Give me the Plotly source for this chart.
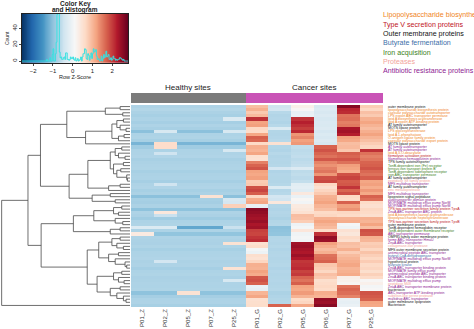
import numpy as np
import plotly.graph_objects as go

W, H = 474, 329

samples = ["P01_Z", "P02_Z", "P05_Z", "P07_Z", "P25_Z",
           "P01_G", "P02_G", "P05_G", "P06_G", "P07_G", "P25_G"]
groups = [0, 0, 0, 0, 0, 1, 1, 1, 1, 1, 1]
group_names = ["Healthy sites", "Cancer sites"]

# ---- row z-scores, one list per sample (65 genes, top to bottom) ----
P01_Z = [-0.74,-0.70,-0.76,-0.80,-0.75,-0.81,-0.74,-0.79,-1.02,-0.75,
         -0.73,-0.80,-1.15,-0.86,-0.75,-0.74,-0.72,-0.79,-0.76,-0.74,
         -0.73,-0.80,-0.76,-0.75,-0.81,-0.74,-0.72,-0.80,-0.76,-1.02,
         -0.80,-0.82,-0.76,-1.00,-0.74,-0.77,-0.86,-0.75,-0.73,-0.30,
         -0.75,0.35,-0.74,-0.76,-0.77,-0.73,-0.80,-0.75,-0.74,-0.72,
         -0.76,-0.74,-0.81,-0.75,-0.73,-0.77,-0.76,-0.74,-0.75,-0.73,
         -1.00,-0.82,-0.75,-0.74,-0.80]
P02_Z = [-0.74,-0.70,-0.76,-0.80,-0.75,-0.81,-0.74,-0.79,-0.35,-0.75,
         -0.73,-0.80,0.60,0.60,-0.75,-0.45,-0.72,-0.79,-0.76,-0.74,
         -0.73,-0.80,-0.76,-0.75,-0.81,-0.45,-0.72,-0.80,-0.76,-1.02,
         -0.80,-0.82,-0.76,-1.00,0.40,-0.50,-0.86,-0.75,-0.73,-0.30,
         -0.75,-0.98,-0.74,-0.76,-0.77,-0.73,-0.80,-0.75,-0.74,-0.72,
         -0.40,-0.74,-0.81,-0.75,-0.73,-0.77,-0.76,-0.74,-0.75,-0.73,
         -1.00,-0.82,-0.75,-0.74,-0.80]
P05_Z = [-0.74,-0.70,-0.76,-0.80,-0.75,-0.81,-0.74,-0.79,-1.02,-0.75,
         -0.73,-0.80,-1.15,-0.86,-0.75,-0.74,-0.72,-0.79,-0.76,-0.74,
         -0.73,-0.80,-0.76,-0.75,-0.81,-0.74,-0.72,-0.80,-0.76,-1.02,
         -0.80,-0.82,-0.76,-1.00,-0.74,-0.77,-0.86,-0.75,-0.73,-1.30,
         -0.75,-0.98,-0.74,-0.76,-0.77,-0.73,-0.80,-0.75,-0.74,-0.72,
         -0.76,-0.74,-0.81,-0.75,-0.73,-0.77,-0.76,-0.74,-0.75,-0.73,
         0.50,-0.82,-0.75,-0.74,-0.80]
P07_Z = [-0.74,-0.70,-0.76,-0.80,-0.75,-0.81,-0.74,-0.79,-1.02,-0.75,
         -0.73,-0.80,-1.15,-0.86,-0.75,-0.74,-0.72,-0.79,-0.76,-0.74,
         -0.73,-0.80,-0.76,-0.75,-0.81,-0.74,-0.72,-0.80,-0.76,0.50,
         -0.80,-0.82,-0.76,-1.00,-0.74,-0.77,-0.86,-0.75,-0.73,-1.30,
         -0.75,-0.98,-0.74,-0.76,-0.77,-0.73,-0.80,-0.75,-0.74,-0.72,
         -0.76,-0.74,-0.81,-0.75,-0.73,-0.77,-0.76,-0.74,-0.75,-0.73,
         -1.00,-0.82,-0.75,-0.74,-0.80]
P25_Z = [-0.74,-0.70,-0.76,-0.80,-0.30,-0.81,-0.74,-0.79,-0.35,-0.75,
         -0.73,-0.80,-1.15,-0.86,-0.35,-0.74,-0.72,-0.79,-0.76,-0.74,
         -0.73,-0.80,-0.76,-0.75,-0.81,-0.74,-0.72,-0.80,-0.76,-1.02,
         -0.35,-0.40,0.75,-1.00,-0.74,-0.77,-0.86,-0.75,-0.73,-0.50,
         -0.75,-0.98,-0.74,-0.76,0.50,-0.73,-0.80,-0.75,-0.74,-0.72,
         -0.76,-0.74,0.50,-0.75,-0.73,-0.77,-0.35,-0.74,-0.75,-0.73,
         -1.00,-0.82,-0.75,-0.74,-0.80]
P01_G = [0.93,1.06,0.82,0.97,2.08,1.18,1.22,0.66,0.62,1.15,
         1.72,1.66,0.64,1.08,1.03,1.17,0.55,0.52,1.47,1.69,
         1.81,1.19,1.14,1.21,0.79,0.83,1.84,1.93,1.74,0.67,
         1.09,1.16,-0.12,2.55,2.49,2.41,2.36,2.45,2.31,2.38,
         1.96,1.92,2.04,2.12,0.53,0.61,0.03,-0.06,0.56,0.51,
         0.68,1.07,1.04,1.19,1.11,1.79,1.83,1.71,-0.09,-0.13,
         1.02,1.16,0.54,0.57,0.59]
P02_G = [-0.45,-0.40,-0.66,-0.71,-0.69,-0.72,-0.66,-0.30,-0.70,-0.71,
         -0.69,-0.66,0.52,-0.70,-0.72,-0.66,-0.71,-0.69,-0.70,-0.68,
         -0.40,-0.72,-0.69,-0.70,-0.71,-0.68,-0.30,-0.69,-0.66,-0.40,
         -0.45,0.40,-0.70,-0.72,-0.69,-0.71,-0.76,-0.70,-0.68,-1.02,
         -1.00,-0.98,-0.70,-0.69,-0.71,-0.68,-0.72,-0.70,-0.69,-0.71,
         -0.70,-0.68,-0.72,-0.69,-0.71,-0.70,-0.69,-0.71,-0.70,-0.68,
         -0.76,-0.72,-0.70,-0.69,1.70]
P05_G = [0.26,0.13,-0.12,-0.08,2.06,2.21,2.09,1.97,2.14,1.31,
         1.43,1.21,1.28,-0.58,-0.62,-0.60,-0.57,-0.63,-0.59,-0.55,
         -0.28,-0.61,-0.58,-0.62,-0.56,-0.21,-0.17,-0.24,0.38,-0.09,
         0.14,0.02,0.36,0.41,0.53,0.94,0.91,0.78,-0.04,0.03,
         0.42,-0.02,0.05,0.01,2.39,2.44,2.35,2.29,2.42,2.27,
         2.03,2.07,2.13,1.94,2.01,1.68,1.57,1.73,1.18,1.13,
         1.26,1.04,0.63,0.69,1.16]
P06_G = [-0.35,-0.30,-0.34,-0.28,-0.36,-0.31,-0.33,-0.29,-0.37,-0.30,
         -0.34,-0.29,-0.35,1.70,1.82,1.68,1.58,1.79,1.44,1.32,
         1.46,1.55,1.29,1.85,1.91,0.66,0.54,0.69,0.81,1.06,
         1.10,1.19,1.03,0.92,0.64,0.68,1.07,1.17,1.05,0.96,
         0.63,2.07,2.48,2.43,1.20,1.08,0.94,1.06,1.57,1.62,
         1.71,0.84,0.78,0.67,0.91,0.82,0.57,0.62,0.66,0.61,
         1.09,1.03,2.47,2.41,2.56]
P07_G = [2.58,2.16,2.11,1.56,1.60,1.47,1.53,2.32,2.37,2.23,
         1.20,1.14,0.93,0.97,0.83,1.73,1.67,1.80,1.59,1.23,
         1.17,1.08,1.83,1.94,1.74,1.78,2.04,1.69,1.86,0.66,
         0.62,1.71,1.21,1.33,0.67,0.63,1.05,1.10,0.04,-0.03,
         0.52,0.41,0.64,0.56,0.93,0.89,1.07,0.79,0.95,1.03,
         1.09,1.16,1.02,1.06,1.12,0.27,0.22,0.14,1.56,1.68,
         1.61,1.45,-0.10,-0.14,-0.08]
P25_G = [0.78,0.66,0.91,0.81,1.06,1.17,1.04,0.94,1.08,1.19,
         1.03,0.92,0.79,0.68,2.07,1.58,1.46,1.54,1.69,1.72,
         1.81,1.66,1.57,1.74,1.16,1.21,1.09,1.27,1.13,1.71,
         1.60,0.63,0.54,0.67,0.64,0.56,1.07,1.02,1.18,0.93,
         1.84,1.79,1.06,1.01,0.77,0.82,0.68,0.88,0.76,0.66,
         0.79,0.64,0.69,0.57,0.74,0.62,0.13,0.24,0.05,0.11,
         1.82,1.77,1.70,1.18,1.14]

columns = [P01_Z, P02_Z, P05_Z, P07_Z, P25_Z, P01_G, P02_G, P05_G, P06_G, P07_G, P25_G]

row_labels = [
    "outer membrane protein", "lipopolysaccharide biosynthesis protein",
    "capsular polysaccharide autotransporter", "LPS export ABC transporter permease",
    "lipid A biosynthesis acyltransferase", "lipid A export ATP-binding protein",
    "AT family autotransporter", "MOTS lipase protein", "LPS glycosyltransferase",
    "lipid A 1-phosphatase", "O-antigen ligase family protein",
    "capsular polysaccharide export protein", "MOTS lipase protein",
    "AT family autotransporter", "AT family autotransporter", "lipid A 3-O-deacylase",
    "hemolysin activation protein", "filamentous hemagglutinin protein",
    "TPS family autotransporter", "TonB-dependent iron (Fe) receptor",
    "ferrous iron transport protein B", "TonB-dependent siderophore receptor",
    "iron ABC transporter permease", "AT family autotransporter",
    "peptidase S8 family protein", "MFS multidrug transporter",
    "AT family autotransporter", "zinc metalloprotease", "MFS multidrug transporter",
    "lipoprotein signal peptidase", "autotransporter domain protein",
    "MOP/MATE multidrug efflux pump NorM", "MOP/MATE multidrug efflux pump NorM",
    "TPS two-partner secretion family protein TpsA", "ZnuA ABC transporter ABC protein",
    "lipid A biosynthesis lauroyl acyltransferase", "lipopolysaccharide heptosyltransferase",
    "TPS two-partner secretion family protein TpsB", "outer membrane protein",
    "TonB-dependent hemoglobin receptor", "TonB-dependent outer membrane receptor",
    "ABC transporter permease", "OMP85 family outer membrane protein",
    "heme ABC transporter HmuU", "ZnuA ABC transporter", "collagenase-like protease",
    "MFS outer membrane secretion protein", "antimicrobial peptide ABC transporter",
    "butyryl-CoA dehydrogenase", "MOP/MATE multidrug efflux pump NorM",
    "hypothetical protein", "butyrate kinase", "ZnuA ABC transporter binding protein",
    "MOP/MATE family efflux pump", "antimicrobial peptide ABC transporter",
    "ZnuA ABC transporter binding protein", "MOP/MATE multidrug efflux pump",
    "peptidase M48", "ZnuA ABC transporter membrane protein", "bacteriocin",
    "ABC transporter ATP-binding protein", "subtilisin-like serine protease",
    "multidrug ABC transporter", "outer membrane lipoprotein", "Bacteriocin",
]
row_cats = list("OLLLLLOOLLLLOAALTAOIIIIOPAOPAOAAATALLTOOIAOAAPOABAOBAAAAAPAOAPAOO")

cat_names = ["Lipopolysaccharide biosynthesis", "Type V secretion proteins",
             "Outer membrane proteins", "Butyrate fermentation", "Iron acquisition",
             "Proteases", "Antibiotic resistance proteins"]
cat_codes = ["L", "T", "O", "B", "I", "P", "A"]
cat_colors = ["#f0841e", "#c0141e", "#111111", "#3b6ea8", "#3d7f22", "#f2a29a", "#8e1c92"]

# dendrogram: (height, left, right); leaves are row indices
a = (75, (30, 0, 1), (22, 2, 3))
b = (135, (55, (40, (20, 4, 5), (30, 6, (12, 7, 8))), (35, (18, 9, 10), 11)), 12)
A1a = (192, a, b)
c12 = (60, (45, (25, 13, 14), (35, 15, (15, 16, 17))),
       (50, (20, 18, 19), (40, (28, 20, 21), (10, 22, (8, 23, 24)))))
c = (128, c12, (65, (30, 25, 26), 27))
d = (115, (60, 28, 29), (45, 30, 31))
A1 = (272, A1a, (185, c, d))
e = (172, (110, (50, (25, 32, 33), (35, 34, 35)), (45, 36, (22, 37, 38))),
     (60, (30, 39, 40), 41))
f1 = (95, (55, (30, 42, 43), (40, 44, (20, 45, 46))),
      (65, (35, 47, 48), (45, 49, (15, 50, (10, 51, 52)))))
f2 = (100, (50, (25, 53, 54), (35, 55, (18, 56, 57))),
      (60, (30, 58, 59), (40, 60, (20, 61, (12, 62, 63)))))
A2 = (270, e, (130, f1, f2))
tree = (390, (310, A1, A2), 64)

# ---------------------------------------------------------------
n_rows = len(row_labels)
z = [[col[r] for col in columns] for r in range(n_rows)]
zmin, zmax = -2.6, 2.8
brewer = ["#053061", "#2166ac", "#4393c3", "#92c5de", "#d1e5f0", "#f7f7f7",
          "#fddbc7", "#f4a582", "#d6604d", "#b2182b", "#67001f"]
cscale = [[i / 10, col] for i, col in enumerate(brewer)]

def px_x(p):
    return p / W

def px_y(p):
    return 1 - p / H

fig = go.Figure()

# main heatmap
fig.add_trace(go.Heatmap(z=z, x=list(range(len(samples))), y=list(range(n_rows)),
                         colorscale=cscale, zmin=zmin, zmax=zmax, showscale=False,
                         xaxis="x", yaxis="y", hoverinfo="skip"))

# group band
fig.add_trace(go.Heatmap(z=[groups], x=list(range(len(samples))), y=[0],
                         colorscale=[[0, "#7b7b7b"], [0.5, "#7b7b7b"], [0.5, "#c953b6"], [1, "#c953b6"]],
                         zmin=0, zmax=1, showscale=False, xaxis="x", yaxis="y2", hoverinfo="skip"))

# dendrogram
dx, dy = [], []
def walk(node):
    if isinstance(node, int):
        return float(node), 0.0
    h, l, r = node
    yl, hl = walk(l)
    yr, hr = walk(r)
    dx.extend([hl, h, h, hr, None])
    dy.extend([yl, yl, yr, yr, None])
    return (yl + yr) / 2, h
walk(tree)
fig.add_trace(go.Scatter(x=dx, y=dy, mode="lines", line=dict(color="#4a4a4a", width=0.8),
                         xaxis="x2", yaxis="y", hoverinfo="skip", showlegend=False))

# color key gradient
kx = np.linspace(zmin, zmax, 220)
fig.add_trace(go.Heatmap(z=[kx, kx], x=kx, y=[0, 57], colorscale=cscale, zmin=zmin, zmax=zmax,
                         showscale=False, xaxis="x3", yaxis="y3", hoverinfo="skip"))
# histogram of values
allv = np.array(columns).ravel()
counts, edges = np.histogram(allv, bins=np.linspace(zmin, zmax, 136))
hx = list(edges)
hy = list(counts) + [counts[-1]]
fig.add_trace(go.Scatter(x=hx, y=hy, mode="lines", line=dict(color="#38e0e0", width=1, shape="hv"),
                         xaxis="x3", yaxis="y3", hoverinfo="skip", showlegend=False))

font_fam = "Liberation Sans, Arial, sans-serif"
hm_dom_x = [px_x(131), px_x(383)]

fig.update_layout(
    width=W, height=H, autosize=False, margin=dict(l=0, r=0, t=0, b=0),
    paper_bgcolor="white", plot_bgcolor="white", showlegend=False,
    font=dict(family=font_fam, color="#222"),
    xaxis=dict(domain=hm_dom_x, range=[-0.5, 10.5], tickvals=list(range(len(samples))),
               ticktext=samples, tickangle=-90, tickfont=dict(size=6, color="#333"),
               showgrid=False, zeroline=False, showline=False, ticks="", anchor="y"),
    yaxis=dict(domain=[px_y(307), px_y(105)], range=[n_rows - 0.5, -0.5], visible=False,
               anchor="x"),
    yaxis2=dict(domain=[px_y(103), px_y(93)], range=[-0.5, 0.5], visible=False, anchor="x"),
    xaxis2=dict(domain=[0, px_x(130)], range=[395, 0], visible=False, anchor="y"),
    xaxis3=dict(domain=[px_x(22), px_x(128)], range=[-2.57, 2.8], anchor="y3",
                tickvals=[-2, -1, 0, 1, 2], ticktext=["\u22122", "\u22121", "0", "1", "2"],
                ticks="outside", ticklen=2, tickwidth=0.6,
                tickfont=dict(size=6), showline=True, mirror=True, linecolor="#222", linewidth=0.7,
                showgrid=False, zeroline=False,
                title=dict(text="Row Z-Score", font=dict(size=5.5), standoff=2)),
    yaxis3=dict(domain=[px_y(62.7), px_y(14)], range=[-2, 57.5], anchor="x3",
                tickvals=[0, 20, 40], tickangle=-90, ticks="outside", ticklen=2, tickwidth=0.6,
                tickfont=dict(size=6), showline=True, mirror=True, linecolor="#222", linewidth=0.7,
                showgrid=False, zeroline=False,
                title=dict(text="Count", font=dict(size=5), standoff=1)),
)

ann = []
ann.append(dict(text="<b>Color Key</b>", x=px_x(75), y=px_y(4), xref="paper", yref="paper",
                showarrow=False, font=dict(size=6.5, color="#222"), xanchor="center",
                yanchor="middle"))
ann.append(dict(text="<b>and Histogram</b>", x=px_x(75), y=px_y(10.5), xref="paper",
                yref="paper", showarrow=False, font=dict(size=6.5, color="#222"),
                xanchor="center", yanchor="middle"))
# group labels
for gi, name in enumerate(group_names):
    idx = [i for i, g in enumerate(groups) if g == gi]
    ann.append(dict(text=name, x=(idx[0] + idx[-1]) / 2, y=px_y(87.5), xref="x", yref="paper",
                    showarrow=False, font=dict(size=8, color="#222"), xanchor="center",
                    yanchor="middle"))
# category legend
for i, (nm, colr) in enumerate(zip(cat_names, cat_colors)):
    ann.append(dict(text=nm, x=px_x(381), y=px_y(15.5 + 9.3 * i), xref="paper", yref="paper",
                    showarrow=False, font=dict(size=7.1, color=colr), xanchor="left",
                    yanchor="middle"))
# row labels
cmap = dict(zip(cat_codes, cat_colors))
for r, (lab, cc) in enumerate(zip(row_labels, row_cats)):
    ann.append(dict(text=lab, x=px_x(386), y=r, xref="paper", yref="y", showarrow=False,
                    font=dict(size=3.5, color=cmap[cc]), xanchor="left", yanchor="middle"))
fig.update_layout(annotations=ann)

fig.write_html("out.html")
